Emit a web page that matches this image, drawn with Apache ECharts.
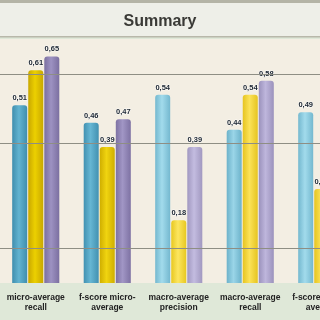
<!DOCTYPE html>
<html><head><meta charset="utf-8">
<script src="https://cdn.jsdelivr.net/npm/echarts@6/dist/echarts.min.js"></script>
<style>html,body{margin:0;padding:0;background:#dfe8d8;}#c{width:320px;height:320px;}</style>
</head><body><div id="c"></div>
<script>
const categories = ['micro-average\nrecall', 'f-score micro-\naverage', 'macro-average\nprecision', 'macro-average\nrecall', 'f-score macro-\naverage'];
const seriesA = [0.51, 0.46, 0.54, 0.44, 0.49];
const seriesB = [0.61, 0.39, 0.18, 0.54, 0.27];
const seriesC = [0.65, 0.47, 0.39, 0.58, 0.40];
const gridLineValues = [0.1, 0.4, 0.6];
const titleText = 'Summary';

const palettes = {
  A: [['#3f8eae','#62b3d0'],['#4291b1','#66b6d3'],['#74b8cf','#a2dbec'],['#6cb2ca','#9ad5e8'],['#74b8cf','#a2dbec']],
  B: [['#c9a800','#ecd000'],['#cfae00','#f0d410'],['#e8c820','#fce660'],['#e6c420','#fbe258'],['#e6c420','#fbe258']],
  C: [['#7b6fa0','#9d92c2'],['#7e72a3','#a196c5'],['#a198c0','#c3bce0'],['#9b92bc','#beb6dc'],['#a198c0','#c3bce0']]
};
function grad(key){
  return function(p){
    const c = palettes[key][p.dataIndex];
    return new echarts.graphic.LinearGradient(0,0,1,0,[
      {offset:0,color:c[0]},{offset:0.45,color:c[1]},{offset:1,color:c[0]}]);
  };
}
const fmt = p => p.value.toFixed(2).replace('.', ',');
const lbl = {show:true, position:'top', distance:3, formatter:fmt, fontSize:7.5, fontWeight:'bold',
  fontFamily:'Liberation Sans', color:'#1a2430', textBorderColor:'rgba(255,255,255,0.7)', textBorderWidth:1};

function barSeries(name, data, key){
  return {name, type:'bar', data, barWidth:15, barGap:'7%', z:3,
    itemStyle:{color:grad(key), borderRadius:[3,3,0,0]}, label:lbl};
}

const chart = echarts.init(document.getElementById('c'), null, {renderer:'canvas'});
chart.setOption({
  animation:false,
  backgroundColor:'#dfe8d8',
  title:{text:titleText, left:'center', top:9, textStyle:{fontFamily:'Liberation Sans', fontWeight:'bold', fontSize:16, color:'#3a3a36'}},
  graphic:[
    {type:'rect', shape:{x:0,y:0,width:320,height:3}, style:{fill:'#b4b4a6'}, z:-10},
    {type:'rect', shape:{x:0,y:3,width:320,height:34}, style:{fill:'#eeefe8'}, z:-10},
    {type:'rect', shape:{x:0,y:36,width:320,height:1.5}, style:{fill:'#b8b8aa'}, z:-10}
  ],
  grid:{left:0, top:39, right:-37.5, bottom:37, show:true, backgroundColor:'#f3eee3', borderWidth:0,
    containLabel:false, outerBoundsMode:'none'},
  xAxis:{type:'category', data:categories,
    axisLine:{show:false}, axisTick:{show:false},
    axisLabel:{interval:0, margin:10, fontSize:8.5, fontWeight:'bold', lineHeight:10, fontFamily:'Liberation Sans', color:'#222222'}},
  yAxis:{type:'value', min:0, max:0.7, show:false, splitLine:{show:false}},
  series:[
    {type:'line', data:[], z:1, silent:true,
      markLine:{silent:true, symbol:'none', label:{show:false},
        lineStyle:{color:'#8e8e84', type:'solid', width:1},
        data: gridLineValues.map(v => ({yAxis:v}))}},
    barSeries('A', seriesA, 'A'),
    barSeries('B', seriesB, 'B'),
    barSeries('C', seriesC, 'C')
  ]
});
</script></body></html>
